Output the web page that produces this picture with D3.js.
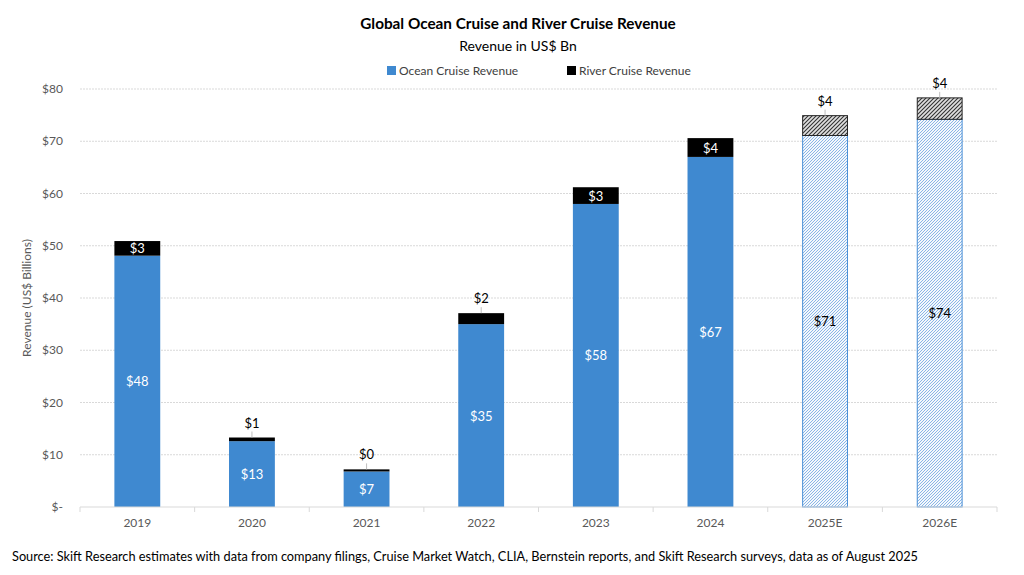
<!DOCTYPE html>
<html>
<head>
<meta charset="utf-8">
<script src="https://cdn.jsdelivr.net/npm/d3@7"></script>
<style>
  body { margin: 0; background: #fff; }
  text { font-family: Lato, "Open Sans", sans-serif; }
</style>
</head>
<body>
<div id="chart-area"></div>
<script>
// data
var years = ["2019", "2020", "2021", "2022", "2023", "2024", "2025E", "2026E"];
var ocean = [48.1, 12.6, 6.8, 35.0, 58.0, 67.0, 71.1, 74.2];
var river = [2.8, 0.7, 0.4, 2.1, 3.2, 3.6, 3.8, 4.1];
var estimate = [false, false, false, false, false, false, true, true];
var riverInside = [true, false, false, false, true, true, false, false];
var yTicks = [0, 10, 20, 30, 40, 50, 60, 70, 80];

var width = 1024, height = 575;
var margin = {left: 80, right: 27, top: 89, bottom: 68};

var svg = d3.select("#chart-area")
    .append("svg")
        .attr("width", width)
        .attr("height", height);

// hatch patterns
var defs = svg.append("defs");
var p1 = defs.append("pattern")
    .attr("id", "hatchBlue")
    .attr("patternUnits", "userSpaceOnUse")
    .attr("width", 3).attr("height", 3);
p1.append("rect").attr("width", 3).attr("height", 3).attr("fill", "#f4f8fc");
p1.append("path").attr("d", "M-1,1 l2,-2 M0,3 l3,-3 M2,4 l2,-2")
    .attr("stroke", "#7eaee3").attr("stroke-width", 0.9);
var p2 = defs.append("pattern")
    .attr("id", "hatchGrey")
    .attr("patternUnits", "userSpaceOnUse")
    .attr("width", 4).attr("height", 4);
p2.append("rect").attr("width", 4).attr("height", 4).attr("fill", "#e0e0e0");
p2.append("path").attr("d", "M-1,1 l2,-2 M0,4 l4,-4 M3,5 l2,-2")
    .attr("stroke", "#333").attr("stroke-width", 1.1);

var x = d3.scaleBand()
    .domain(years)
    .range([margin.left, width - margin.right])
    .paddingInner(0.6)
    .paddingOuter(0.3);

var y = d3.scaleLinear()
    .domain([0, 80])
    .range([height - margin.bottom, margin.top]);

// gridlines
svg.append("g")
    .selectAll("line")
    .data(yTicks.slice(1))
    .enter()
    .append("line")
        .attr("x1", margin.left)
        .attr("x2", width - margin.right)
        .attr("y1", d => y(d))
        .attr("y2", d => y(d))
        .attr("stroke", "#d9d9d9")
        .attr("stroke-dasharray", "2,1");

// y axis labels
svg.append("g")
    .selectAll("text")
    .data(yTicks)
    .enter()
    .append("text")
        .attr("x", 63)
        .attr("y", d => y(d) + 4)
        .attr("text-anchor", "end")
        .attr("font-size", 12)
        .attr("fill", "#595959")
        .text(d => d === 0 ? "$-" : "$" + d);

svg.append("text")
    .attr("transform", "translate(31," + ((y(0) + y(80)) / 2) + ") rotate(-90)")
    .attr("text-anchor", "middle")
    .attr("font-size", 12)
    .attr("fill", "#595959")
    .text("Revenue (US$ Billions)");

// bars
var rows = years.map((d, i) => ({
    year: d, ocean: ocean[i], river: river[i], est: estimate[i], inside: riverInside[i]
}));

var g = svg.append("g");
var bw = x.bandwidth();

g.selectAll("rect.ocean")
    .data(rows)
    .enter()
    .append("rect")
        .attr("class", "ocean")
        .attr("x", d => x(d.year) + (d.est ? 0.5 : 0))
        .attr("width", d => d.est ? bw - 1 : bw)
        .attr("y", d => y(d.ocean))
        .attr("height", d => y(0) - y(d.ocean))
        .attr("fill", d => d.est ? "url(#hatchBlue)" : "#3f89d0")
        .attr("stroke", d => d.est ? "#4a8fd6" : "none")
        .attr("stroke-width", 1);

g.selectAll("rect.river")
    .data(rows)
    .enter()
    .append("rect")
        .attr("class", "river")
        .attr("x", d => x(d.year) + (d.est ? 0.5 : 0))
        .attr("width", d => d.est ? bw - 1 : bw)
        .attr("y", d => y(d.ocean + d.river))
        .attr("height", d => y(d.ocean) - y(d.ocean + d.river))
        .attr("fill", d => d.est ? "url(#hatchGrey)" : "#000")
        .attr("stroke", d => d.est ? "#262626" : "none")
        .attr("stroke-width", 1);

// ocean labels
g.selectAll("text.ocean")
    .data(rows)
    .enter()
    .append("text")
        .attr("x", d => x(d.year) + bw / 2)
        .attr("y", d => (y(0) + y(d.ocean)) / 2 + 5)
        .attr("text-anchor", "middle")
        .attr("font-size", 13)
        .attr("fill", d => d.est ? "#000" : "#fff")
        .text(d => "$" + Math.round(d.ocean));

// leader lines for labels above
g.selectAll("line.leader")
    .data(rows.filter(d => !d.inside))
    .enter()
    .append("line")
        .attr("x1", d => x(d.year) + bw / 2)
        .attr("x2", d => x(d.year) + bw / 2)
        .attr("y1", d => y(d.ocean + d.river))
        .attr("y2", d => y(d.ocean + d.river) - 6)
        .attr("stroke", "#bfbfbf");

// river labels
g.selectAll("text.river")
    .data(rows)
    .enter()
    .append("text")
        .attr("x", d => x(d.year) + bw / 2)
        .attr("y", d => d.inside ? (y(d.ocean) + y(d.ocean + d.river)) / 2 + 5 : y(d.ocean + d.river) - 10)
        .attr("text-anchor", "middle")
        .attr("font-size", 13)
        .attr("fill", d => d.inside ? "#fff" : "#000")
        .text(d => "$" + Math.round(d.river));

// baseline and category ticks
svg.append("line")
    .attr("x1", margin.left).attr("x2", width - margin.right)
    .attr("y1", y(0)).attr("y2", y(0))
    .attr("stroke", "#d9d9d9");

var bounds = d3.range(years.length + 1).map(i => margin.left + i * x.step());
svg.append("g")
    .selectAll("line")
    .data(bounds)
    .enter()
    .append("line")
        .attr("x1", d => d).attr("x2", d => d)
        .attr("y1", y(0)).attr("y2", y(0) + 5)
        .attr("stroke", "#d9d9d9");

svg.append("g")
    .selectAll("text")
    .data(years)
    .enter()
    .append("text")
        .attr("x", d => x(d) + bw / 2)
        .attr("y", y(0) + 20)
        .attr("text-anchor", "middle")
        .attr("font-size", 12)
        .attr("fill", "#595959")
        .text(d => d);

// titles
svg.append("text")
    .attr("x", 518).attr("y", 29)
    .attr("text-anchor", "middle")
    .attr("font-size", 15.3)
    .attr("font-weight", "bold")
    .text("Global Ocean Cruise and River Cruise Revenue");
svg.append("text")
    .attr("x", 518).attr("y", 51)
    .attr("text-anchor", "middle")
    .attr("font-size", 14)
    .text("Revenue in US$ Bn");

// legend
var legend = [
    {label: "Ocean Cruise Revenue", color: "#3f89d0", x: 387},
    {label: "River Cruise Revenue", color: "#000", x: 567}
];
var lg = svg.append("g").selectAll("g")
    .data(legend)
    .enter()
    .append("g")
        .attr("transform", d => "translate(" + d.x + ",66)");
lg.append("rect").attr("width", 9).attr("height", 9).attr("fill", d => d.color);
lg.append("text")
    .attr("x", 12).attr("y", 9)
    .attr("font-size", 12)
    .attr("fill", "#404040")
    .text(d => d.label);

// source
svg.append("text")
    .attr("x", 12).attr("y", 561)
    .attr("font-size", 12.75)
    .text("Source: Skift Research estimates with data from company filings, Cruise Market Watch, CLIA, Bernstein reports, and Skift Research surveys, data as of August 2025");
</script>
</body>
</html>
